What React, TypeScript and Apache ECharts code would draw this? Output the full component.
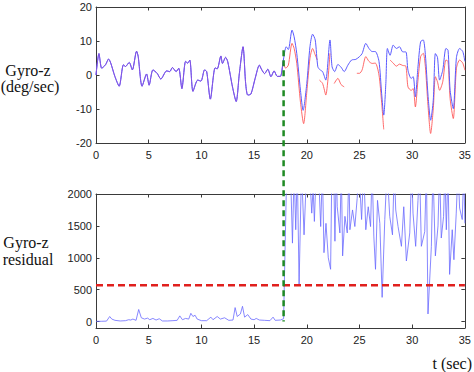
import React, { useEffect, useRef } from "react";
import * as echarts from "echarts";

// ---- Data ----
const xTickValues = [0, 5, 10, 15, 20, 25, 30, 35];
const gyroTicks = [-20, -10, 0, 10, 20];
const residualTicks = [0, 500, 1000, 1500, 2000];

// Gyro-z measured (blue), time in s, value in deg/sec
const gyroT = [
  0, 0.28, 0.54, 0.9, 1.2, 1.4, 1.8, 2.2, 2.6, 2.8, 3.15, 3.45, 3.85, 4.0, 4.37, 4.8, 5.04, 5.4, 5.8, 6.15,
  6.7, 7.0, 7.25, 7.6, 7.85, 8.15, 8.5, 8.7, 8.9, 9.2, 9.65, 9.96, 10.3, 10.5, 10.85, 11.3, 11.5, 11.85, 12.0, 12.3,
  12.5, 12.95, 13.3, 13.6, 13.95, 14.2, 14.4, 14.7, 15.1, 15.5, 15.7, 16.0, 16.3, 16.6, 16.9, 17.2, 17.5, 17.75,
  18.05, 18.25, 18.6, 18.8, 19.05, 19.4, 19.65, 20.0, 20.3, 20.55, 20.8, 21.05, 21.3, 21.5, 21.8, 22.2, 22.4, 22.65, 22.95, 23.25,
  23.55, 23.9, 24.25, 24.65, 25.0, 25.25, 25.6, 25.9, 26.2, 26.5, 26.85, 27.1, 27.3, 27.5, 27.65, 27.9, 28.2, 28.5, 28.8, 29.1,
  29.4, 29.6, 29.9, 30.1, 30.3, 30.55, 30.8, 31.05, 31.25, 31.5, 31.75, 32.0, 32.2, 32.4, 32.6, 32.9, 33.2, 33.4, 33.6, 33.9,
  34.2, 34.5, 34.8, 35,
];
const gyroMeasured = [
  0, 6.3, 2, 3, 4.7, 3.5, -0.5, -3.3, 3, 2.5, 3.7, 1.5, 7, 5.5, -3.3, 0.3, -3, 1.5, 0.5, -1.2,
  1.2, 1, 2.2, 1, 2, -4, 4, 3.5, 4.4, -4.8, -1.5, -1.8, 1.5, 1, -7.1, 2.1, 1.8, 5.6, 3.4, 5.2,
  3.9, -3.5, -7.8, 0.4, 8.3, -2.5, -5.9, -5.6, -1, 2.9, 1.7, 0.4, 1.7, -0.5, 1.2, -0.4, -0.4, 3.9,
  8.3, 7.5, 13.2, 11.2, 6.3, -4.5, -10.4, -2.5, 8.3, 12, 10.3, 2.4, 1.4, 1, -1.5, 10.3, 2.4, 1, 3.1, 2.3,
  1, 2.9, 4.4, 4.6, 5.4, 6.3, 9.3, 7.8, 6.9, 6.9, 4, -5.4, -11.8, -2.5, 7.8, 5.8, 8.8, 7.8, 8.3, 6.8,
  6.8, 1.4, -1, -0.5, -6.4, 2.4, 9.8, 10.3, 6, -5.9, -13.3, -7.4, 6.3, 5.2, -1.5, 1.4, 7.8, 7.3, -4.5, -9.9,
  5.2, 7.8, 6.9, 4,
];

// Gyro-z predicted (red) after the fault; null = gap in the line
const predT = [
  17.75, 18.0, 18.25, 18.6, 18.8, 19.05, 19.4, 19.7, 20.0, 20.3, 20.55, 20.8, 21.0, 21.1, 21.2, 21.5, 21.8, 22.2, 22.35, 22.6,
  22.95, 23.25, 23.55, 23.8, 24.75, 25.0, 25.25, 25.6, 25.9, 26.2, 26.5, 26.85, 27.1, 27.3, 27.45, 27.9, 28.2, 28.5, 28.8, 29.1,
  29.4, 29.6, 29.9, 30.1, 30.3, 30.55, 30.8, 31.05, 31.25, 31.5, 31.75, 32.0, 32.2, 32.4, 32.6, 32.9, 33.2, 33.4, 33.6, 33.9,
  34.2, 34.5, 34.8, 35,
];
const predV: (number | null)[] = [
  3.9, 2.0, 2.9, 9.3, 7.8, 3.4, -8, -14.3, -5, 4.9, 7.8, 5.9, 4.4, null, -1.5, -2.5, -5.9, 6.4, null, -2.5,
  -1, -2.8, -3.5, null, 0.5, 0.5, 1.5, 5.4, 4, 3.4, 3.5, 0, -8, -16, null, 4.4, 3.5, 2.6, 3.2, 2.8,
  2.6, -3.5, -4.5, -4, -9.4, -1.5, 5.4, 6.4, 2.5, -9, -17.2, -10, -0.5, -2, -4.5, -2, 4.4, 4, -7, -12.8,
  2, 4.4, 3.5, 1.4,
];

// Gyro-z residual
const resT = [
  0, 0.5, 1.0, 1.3, 1.5, 1.8, 2.3, 2.8, 3.1, 3.3, 3.5, 3.8, 4.05, 4.3, 4.6, 4.9, 5.1, 5.4, 5.7, 6.0,
  6.3, 6.8, 7.3, 7.7, 7.95, 8.2, 8.5, 8.8, 9.0, 9.2, 9.4, 9.6, 10.0, 10.5, 10.9, 11.1, 11.5, 11.8, 12.2, 12.6,
  13.0, 13.2, 13.4, 13.7, 13.9, 14.1, 14.4, 14.7, 15.0, 15.2, 15.5, 16.0, 16.5, 16.8, 17.0, 17.5, 17.8,
  18.1, 18.45, 18.64, 18.8, 18.95, 19.1, 19.27, 19.5, 19.74, 19.99, 20.25, 20.47, 20.6, 20.72, 20.9, 21.1, 21.32, 21.48, 21.63, 21.82,
  22.04, 22.26, 22.38, 22.55, 22.67, 22.8, 22.89, 23.14, 23.28, 23.4, 23.62, 23.84, 24.0, 24.09, 24.34, 24.56, 24.78, 24.95, 25.2, 25.4,
  25.6, 25.83, 26.05, 26.2, 26.36, 26.52, 26.71, 26.93, 27.15, 27.4, 27.62, 27.87, 28.13, 28.3, 28.44, 28.66, 28.98, 29.2, 29.45, 29.77,
  29.95, 30.08, 30.33, 30.55, 30.7, 30.87, 31.19, 31.35, 31.5, 31.82, 31.97, 32.2, 32.45, 32.6, 32.76, 32.98, 33.1, 33.24, 33.4, 33.55,
  33.8, 33.96, 34.18, 34.35, 34.5, 34.75, 34.9, 35,
];
const resV = [
  5, 5, 8, 80, 40, 20, 10, 15, 30, 25, 40, 20, 190, 60, 40, 55, 30, 50, 25, 45,
  10, 10, 15, 20, 90, 30, 50, 40, 130, 80, 100, 40, 15, 15, 70, 30, 80, 40, 60, 20,
  25, 220, 80, 120, 240, 70, 110, 40, 30, 50, 25, 20, 15, 70, 20, 25, 45,
  2400, 2400, 1230, 2400, 1440, 2400, 585, 2400, 1360, 2400, 2400, 1700, 2100, 1570, 2400, 2400, 1490, 2400, 1080, 1540,
  1000, 820, 2400, 2400, 1260, 2400, 1800, 1390, 2400, 1030, 1650, 1390, 2400, 1440, 1750, 1490, 1930, 2400, 1600, 2400,
  1440, 1800, 1490, 2400, 1340, 820, 1900, 1540, 380, 1600, 2400, 1650, 1360, 2400, 1750, 1490, 1180, 1800, 950, 1390,
  2400, 1700, 1180, 1900, 2400, 1180, 1410, 2400, 120, 1180, 2400, 1030, 1500, 2400, 1310, 1650, 2400, 1440, 2400, 740,
  1440, 970, 1700, 2400, 1780, 1600, 2400, 1540,
];

const threshold = 570;
const faultTime = 17.8;
const faultTopValue = 7.3;

// ---- Chart ----
const SANS = "'Liberation Sans', Arial, Helvetica, sans-serif";
const SERIF = "'Liberation Serif', 'Times New Roman', serif";
const AXIS_COLOR = "#3a3a3a";
const LABEL_COLOR = "#222";

function xAxes(gridIndex: number) {
  const base = {
    gridIndex,
    type: "value" as const,
    min: 0,
    max: 35,
    interval: 5,
    splitLine: { show: false },
    axisLine: { show: true, onZero: false, lineStyle: { color: AXIS_COLOR, width: 1 } },
    axisTick: { show: true, inside: true, length: 3.5, lineStyle: { color: AXIS_COLOR } },
  };
  return [
    {
      ...base,
      position: "bottom",
      axisLabel: {
        show: true,
        customValues: xTickValues,
        formatter: (v: number) => String(v),
        fontSize: 11,
        color: LABEL_COLOR,
        fontFamily: SANS,
        margin: 6,
      },
    },
    { ...base, position: "top", axisLabel: { show: false } },
  ];
}

function yAxes(gridIndex: number, min: number, max: number, ticks: number[]) {
  const base = {
    gridIndex,
    type: "value" as const,
    min,
    max,
    splitLine: { show: false },
    axisLine: { show: true, onZero: false, lineStyle: { color: AXIS_COLOR, width: 1 } },
    axisTick: { show: true, inside: true, length: 3.5, customValues: ticks, lineStyle: { color: AXIS_COLOR } },
  };
  return [
    {
      ...base,
      position: "left",
      axisLabel: {
        show: true,
        customValues: ticks,
        formatter: (v: number) => String(v),
        fontSize: 11,
        color: LABEL_COLOR,
        fontFamily: SANS,
        margin: 4,
      },
    },
    { ...base, position: "right", axisLabel: { show: false } },
  ];
}

export default function App() {
  const ref = useRef<HTMLDivElement>(null);

  useEffect(() => {
    if (!ref.current) return;
    const chart = echarts.init(ref.current, null, { renderer: "svg" });

    const measuredData = gyroT.map((t, i) => [t, gyroMeasured[i]]);
    const overlapData = gyroT
      .map((t, i) => [t, gyroMeasured[i]])
      .filter((p) => p[0] <= faultTime);
    const predData = predT.map((t, i) => [t, predV[i] === null ? "-" : predV[i]]);
    const residualData = resT.map((t, i) => [t, resV[i]]);
    const thresholdData = [
      [xTickValues[0], threshold],
      [xTickValues[xTickValues.length - 1], threshold],
    ];

    const titleStyle = (text: string, align: string) => ({
      text,
      font: `16px ${SERIF}`,
      fill: "#111",
      textAlign: align,
      textVerticalAlign: "middle",
    });

    const option: any = {
      animation: false,
      backgroundColor: "#ffffff",
      grid: [
        { left: 96, right: 8, top: 7, height: 136 },
        { left: 96, right: 8, top: 194, height: 134 },
      ],
      xAxis: [...xAxes(0), ...xAxes(1)],
      yAxis: [...yAxes(0, -20, 20, gyroTicks), ...yAxes(1, -100, 2000, residualTicks)],
      series: [
        {
          name: "measured",
          type: "line",
          xAxisIndex: 0,
          yAxisIndex: 0,
          data: measuredData,
          showSymbol: false,
          symbol: "none",
          smooth: 0.25,
          lineStyle: { color: "#5a5aff", width: 1 },
          z: 2,
        },
        {
          name: "predicted",
          type: "line",
          xAxisIndex: 0,
          yAxisIndex: 0,
          data: predData,
          connectNulls: false,
          showSymbol: false,
          symbol: "none",
          smooth: 0.25,
          lineStyle: { color: "#ff5050", width: 1, opacity: 0.85 },
          z: 1,
        },
        {
          name: "overlap",
          type: "line",
          xAxisIndex: 0,
          yAxisIndex: 0,
          data: overlapData,
          showSymbol: false,
          symbol: "none",
          smooth: 0.25,
          lineStyle: { color: "#8552e2", width: 1 },
          z: 3,
        },
        {
          name: "residual",
          type: "line",
          xAxisIndex: 2,
          yAxisIndex: 2,
          data: residualData,
          showSymbol: false,
          symbol: "none",
          clip: true,
          lineStyle: { color: "#6a6aff", width: 0.8 },
          z: 2,
        },
        {
          name: "threshold",
          type: "line",
          xAxisIndex: 2,
          yAxisIndex: 2,
          data: thresholdData,
          showSymbol: false,
          symbol: "none",
          lineStyle: { color: "#e0201e", width: 2.5, type: [7, 4] },
          z: 3,
        },
      ],
      graphic: [
        { type: "text", x: 28, y: 70, style: titleStyle("Gyro-z", "center") },
        { type: "text", x: 30, y: 86, style: titleStyle("(deg/sec)", "center") },
        { type: "text", x: 26, y: 242, style: titleStyle("Gyro-z", "center") },
        { type: "text", x: 28, y: 259, style: titleStyle("residual", "center") },
        { type: "text", x: 472, y: 363, style: titleStyle("t (sec)", "right") },
      ],
    };

    chart.setOption(option);

    const pTop = chart.convertToPixel({ xAxisIndex: 0, yAxisIndex: 0 } as any, [faultTime, faultTopValue]) as number[];
    const pBot = chart.convertToPixel({ xAxisIndex: 2, yAxisIndex: 2 } as any, [faultTime, 0]) as number[];
    if (pTop && pBot) {
      chart.setOption({
        graphic: [
          ...option.graphic,
          {
            type: "line",
            z: 100,
            shape: { x1: pTop[0], y1: pTop[1], x2: pBot[0], y2: pBot[1] },
            style: { stroke: "#1f8a24", lineWidth: 2.5, lineDash: [6, 4] },
          },
        ],
      });
    }

    return () => {
      chart.dispose();
    };
  }, []);

  return (
    <div
      ref={ref}
      style={{ position: "absolute", left: 0, top: 0, width: 474, height: 372, background: "#fff" }}
    />
  );
}
